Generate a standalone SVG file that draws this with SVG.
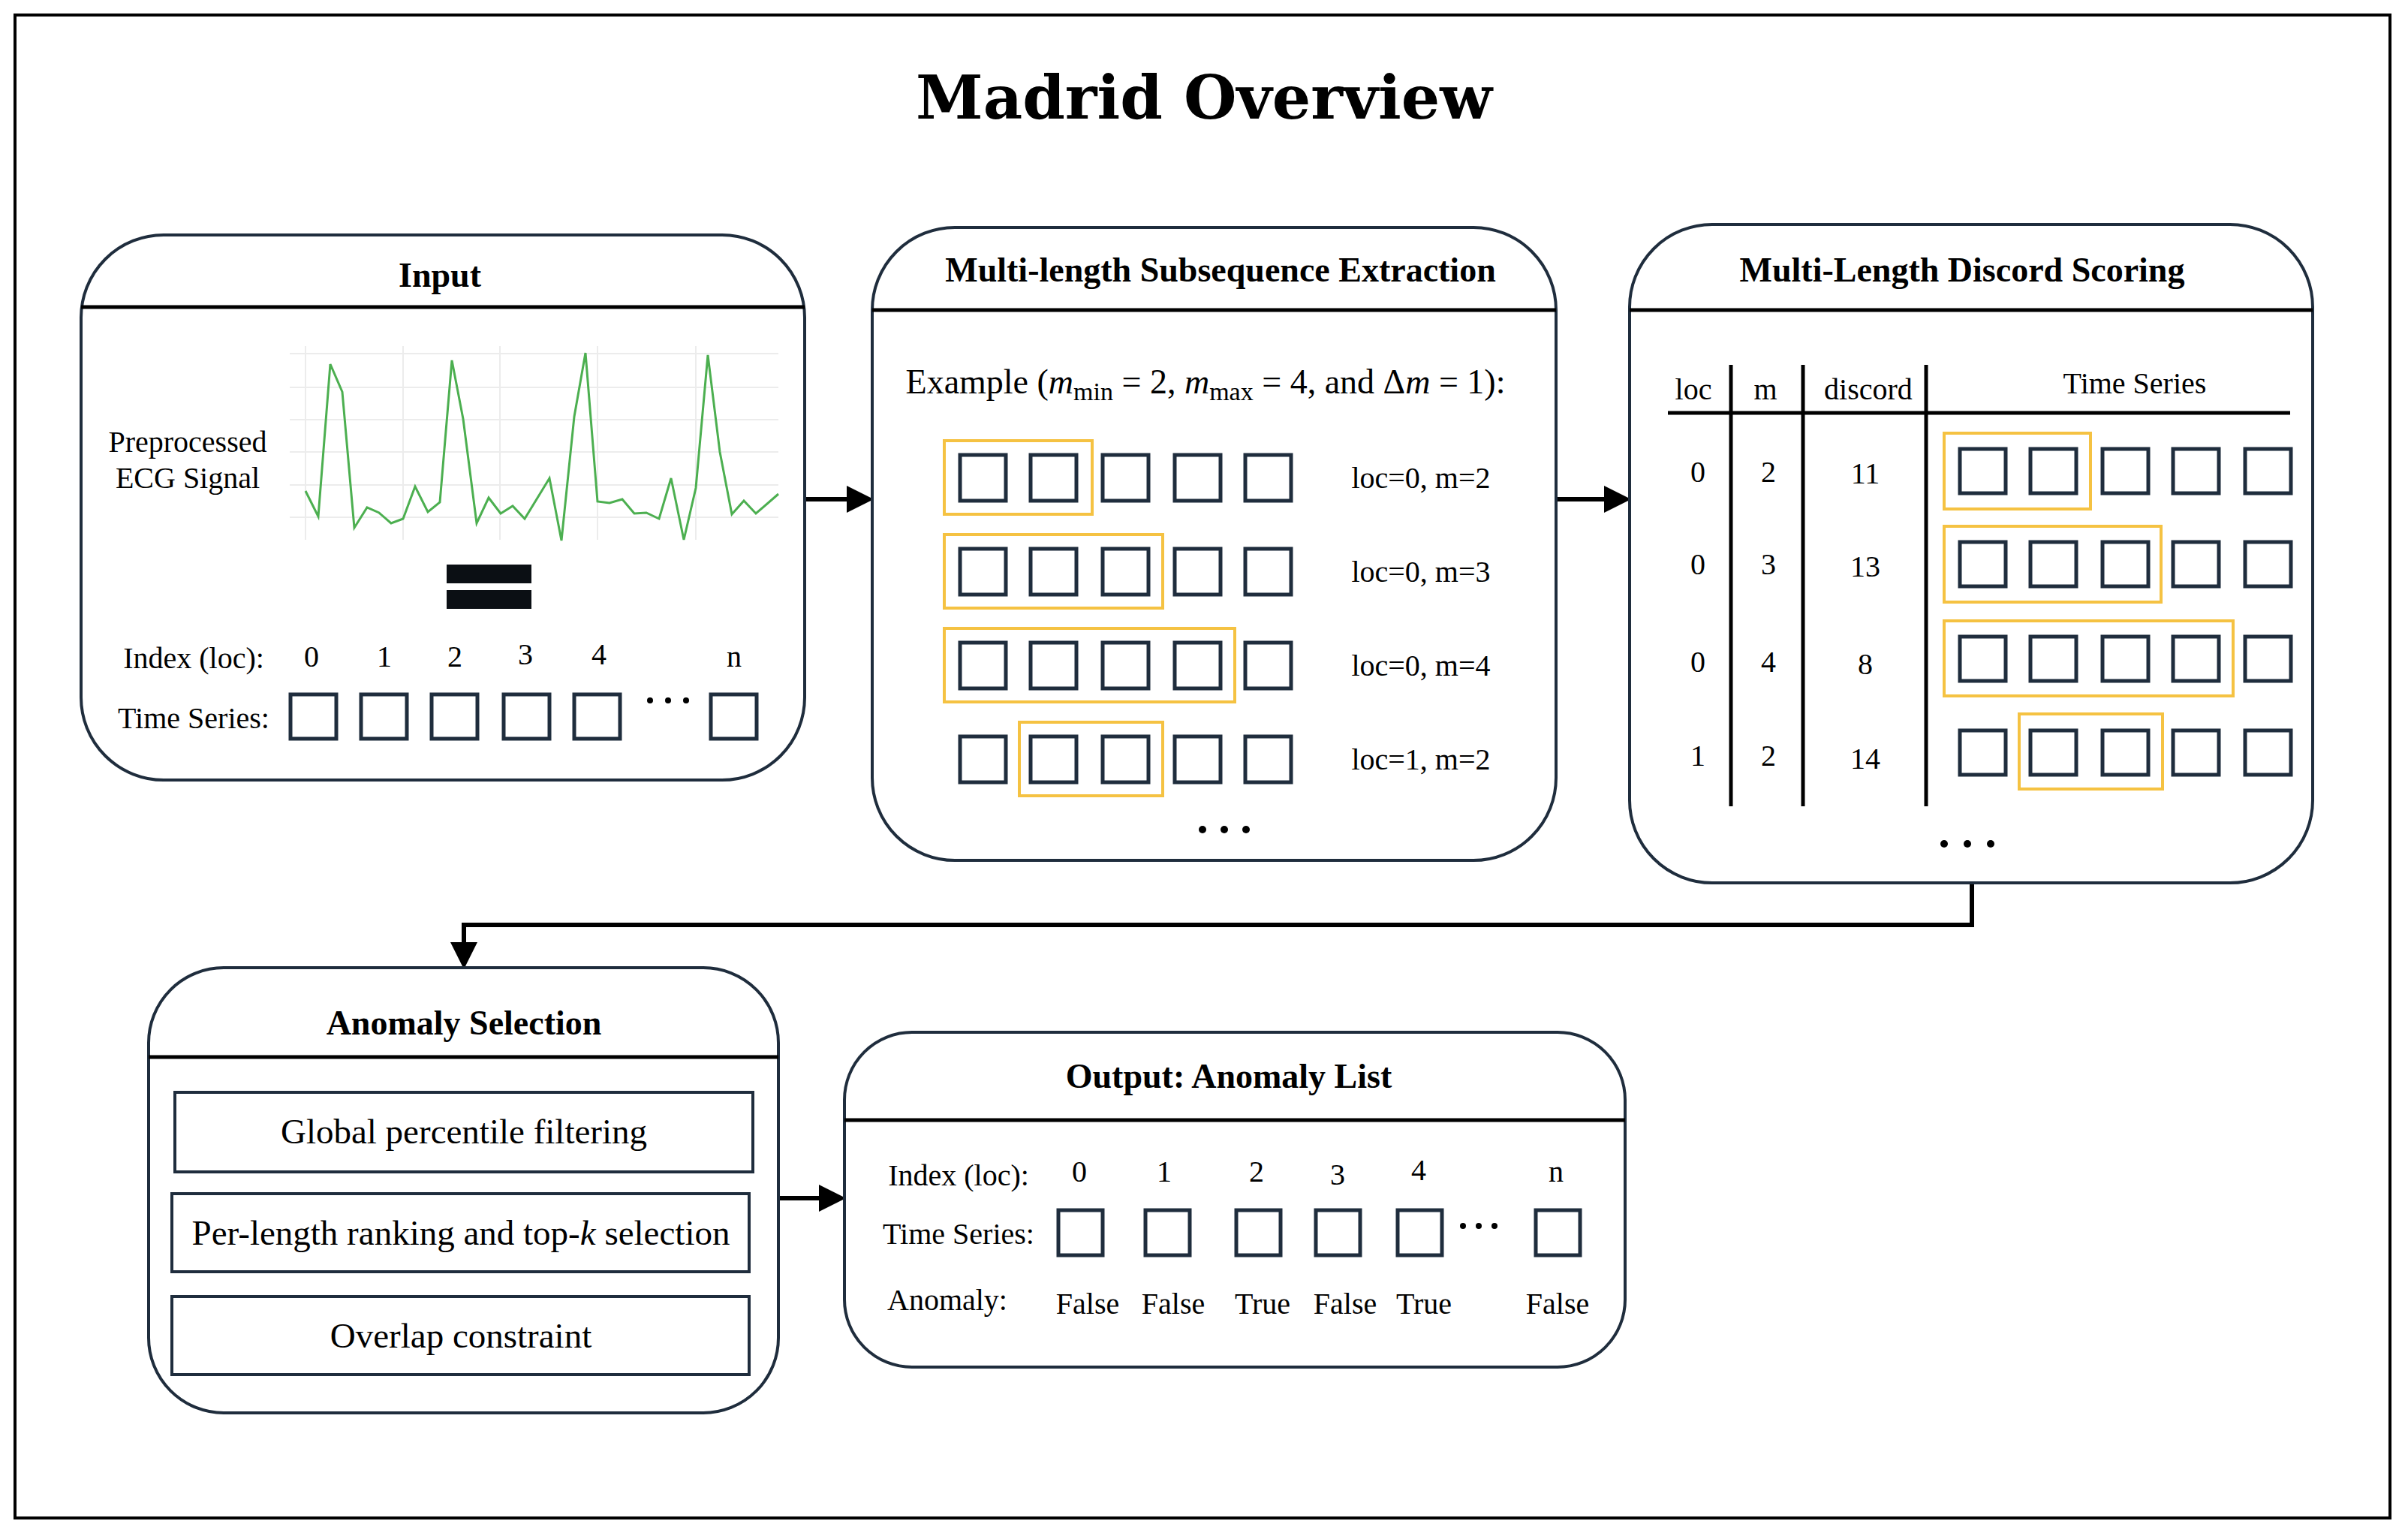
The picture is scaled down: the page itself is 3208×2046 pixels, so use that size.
<svg xmlns="http://www.w3.org/2000/svg" width="3208" height="2046" viewBox="0 0 3208 2046">
<defs>
<style>
text{font-family:"Liberation Serif","DejaVu Serif",serif;fill:#000;font-size:40px}
.t{font-weight:bold;font-size:46px;text-anchor:middle}
.c{text-anchor:middle}
.b{font-size:47px;text-anchor:middle}
.box{fill:#fff;stroke:#1f2d3d;stroke-width:4}
.hl{stroke:#000;stroke-width:5}
.sq{fill:none;stroke:#1f2d3d;stroke-width:5}
.or{fill:none;stroke:#f5c242;stroke-width:4}
.con{fill:none;stroke:#000;stroke-width:6}
.grid{stroke:#ececec;stroke-width:2}
</style>
<marker id="ah" markerWidth="6" markerHeight="6" refX="5" refY="3" orient="auto" markerUnits="strokeWidth"><path d="M0,0 L6,3 L0,6 z" fill="#000"/></marker>
</defs>
<rect width="3208" height="2046" fill="#fff"/>
<rect x="20" y="20" width="3164" height="2002" fill="none" stroke="#000" stroke-width="4"/>
<text x="1604" y="158" class="t" style="font-size:81px;font-family:'DejaVu Serif','Liberation Serif',serif">Madrid Overview</text>

<g id="connectors">
<line class="con" x1="1072" y1="665" x2="1158" y2="665" marker-end="url(#ah)"/>
<line class="con" x1="2073" y1="665" x2="2167" y2="665" marker-end="url(#ah)"/>
<polyline class="con" points="2627,1176 2627,1232 618,1232 618,1285" marker-end="url(#ah)"/>
<line class="con" x1="1037" y1="1596" x2="1121" y2="1596" marker-end="url(#ah)"/>
</g>

<g id="input">
<rect class="box" x="108" y="313" width="964" height="726" rx="110"/>
<line class="hl" x1="108" y1="409" x2="1072" y2="409"/>
<text x="586" y="382" class="t">Input</text>
<g>
<line class="grid" x1="407" y1="461" x2="407" y2="719"/><line class="grid" x1="537" y1="461" x2="537" y2="719"/><line class="grid" x1="666" y1="461" x2="666" y2="719"/><line class="grid" x1="796" y1="461" x2="796" y2="719"/><line class="grid" x1="927" y1="461" x2="927" y2="719"/>
<line class="grid" x1="386" y1="471" x2="1037" y2="471"/><line class="grid" x1="386" y1="516" x2="1037" y2="516"/><line class="grid" x1="386" y1="559" x2="1037" y2="559"/><line class="grid" x1="386" y1="602" x2="1037" y2="602"/><line class="grid" x1="386" y1="646" x2="1037" y2="646"/><line class="grid" x1="386" y1="689" x2="1037" y2="689"/>
<polyline fill="none" stroke="#4caf50" stroke-width="3" points="407,654 424,688 440,485 456,522 472,703 489,676 505,683 521,697 537,691 553,648 570,682 586,669 602,480 617,558 635,697 651,663 667,684 683,674 699,691 732,637 748,720 765,555 780,470 796,668 812,670 829,665 845,684 861,683 878,691 894,637 911,719 927,650 943,473 959,602 975,685 991,667 1007,684 1037,658"/>
</g>
<text x="250" y="602" class="c">Preprocessed</text>
<text x="250" y="650" class="c">ECG Signal</text>
<rect x="595" y="752" width="113" height="25" fill="#0b0f14"/>
<rect x="595" y="786" width="113" height="25" fill="#0b0f14"/>
<text x="258" y="890" class="c">Index (loc):</text>
<text x="415" y="888" class="c">0</text><text x="512" y="888" class="c">1</text><text x="606" y="888" class="c">2</text><text x="700" y="885" class="c">3</text><text x="798" y="885" class="c">4</text><text x="978" y="888" class="c">n</text>
<text x="258" y="970" class="c">Time Series:</text>
<rect class="sq" x="387" y="925" width="61" height="59"/><rect class="sq" x="481" y="925" width="61" height="59"/><rect class="sq" x="575" y="925" width="61" height="59"/><rect class="sq" x="671" y="925" width="61" height="59"/><rect class="sq" x="765" y="925" width="61" height="59"/><rect class="sq" x="947" y="925" width="61" height="59"/>
<circle cx="866" cy="933" r="4"/><circle cx="890" cy="933" r="4"/><circle cx="914" cy="933" r="4"/>
</g>

<g id="extraction">
<rect class="box" x="1162" y="303" width="911" height="843" rx="110"/>
<line class="hl" x1="1162" y1="413" x2="2073" y2="413"/>
<text x="1626" y="375" class="t">Multi-length Subsequence Extraction</text>
<text x="1606" y="524" class="c" style="font-size:46px">Example (<tspan font-style="italic">m</tspan><tspan font-size="34" dy="9">min</tspan><tspan dy="-9"> = 2, </tspan><tspan font-style="italic">m</tspan><tspan font-size="34" dy="9">max</tspan><tspan dy="-9"> = 4, and Δ</tspan><tspan font-style="italic">m</tspan> = 1):</text>
<g>
<rect class="or" x="1258" y="587" width="197" height="98"/>
<rect class="or" x="1258" y="712" width="291" height="98"/>
<rect class="or" x="1258" y="837" width="387" height="98"/>
<rect class="or" x="1358" y="962" width="191" height="98"/>
</g>
<g>
<rect class="sq" x="1279" y="606" width="61" height="61"/><rect class="sq" x="1373" y="606" width="61" height="61"/><rect class="sq" x="1469" y="606" width="61" height="61"/><rect class="sq" x="1565" y="606" width="61" height="61"/><rect class="sq" x="1659" y="606" width="61" height="61"/>
<rect class="sq" x="1279" y="731" width="61" height="61"/><rect class="sq" x="1373" y="731" width="61" height="61"/><rect class="sq" x="1469" y="731" width="61" height="61"/><rect class="sq" x="1565" y="731" width="61" height="61"/><rect class="sq" x="1659" y="731" width="61" height="61"/>
<rect class="sq" x="1279" y="856" width="61" height="61"/><rect class="sq" x="1373" y="856" width="61" height="61"/><rect class="sq" x="1469" y="856" width="61" height="61"/><rect class="sq" x="1565" y="856" width="61" height="61"/><rect class="sq" x="1659" y="856" width="61" height="61"/>
<rect class="sq" x="1279" y="981" width="61" height="61"/><rect class="sq" x="1373" y="981" width="61" height="61"/><rect class="sq" x="1469" y="981" width="61" height="61"/><rect class="sq" x="1565" y="981" width="61" height="61"/><rect class="sq" x="1659" y="981" width="61" height="61"/>
</g>
<text x="1893" y="650" class="c">loc=0, m=2</text>
<text x="1893" y="775" class="c">loc=0, m=3</text>
<text x="1893" y="900" class="c">loc=0, m=4</text>
<text x="1893" y="1025" class="c">loc=1, m=2</text>
<circle cx="1602" cy="1105" r="5"/><circle cx="1631" cy="1105" r="5"/><circle cx="1660" cy="1105" r="5"/>
</g>

<g id="scoring">
<rect class="box" x="2171" y="299" width="910" height="877" rx="110"/>
<line class="hl" x1="2171" y1="413" x2="3081" y2="413"/>
<text x="2614" y="375" class="t">Multi-Length Discord Scoring</text>
<line class="hl" x1="2222" y1="550" x2="3051" y2="550"/>
<line class="hl" x1="2306" y1="486" x2="2306" y2="1074"/>
<line class="hl" x1="2402" y1="486" x2="2402" y2="1074"/>
<line class="hl" x1="2566" y1="486" x2="2566" y2="1074"/>
<text x="2256" y="532" class="c">loc</text><text x="2352" y="532" class="c">m</text><text x="2489" y="532" class="c">discord</text><text x="2844" y="524" class="c">Time Series</text>
<text x="2262" y="642" class="c">0</text><text x="2356" y="642" class="c">2</text><text x="2485" y="644" class="c">11</text>
<text x="2262" y="765" class="c">0</text><text x="2356" y="765" class="c">3</text><text x="2485" y="768" class="c">13</text>
<text x="2262" y="895" class="c">0</text><text x="2356" y="895" class="c">4</text><text x="2485" y="898" class="c">8</text>
<text x="2262" y="1020" class="c">1</text><text x="2356" y="1020" class="c">2</text><text x="2485" y="1024" class="c">14</text>
<g>
<rect class="or" x="2590" y="577" width="195" height="101"/>
<rect class="or" x="2590" y="701" width="289" height="101"/>
<rect class="or" x="2590" y="827" width="385" height="100"/>
<rect class="or" x="2690" y="951" width="191" height="100"/>
</g>
<g>
<rect class="sq" x="2611" y="598" width="61" height="59"/><rect class="sq" x="2705" y="598" width="61" height="59"/><rect class="sq" x="2801" y="598" width="61" height="59"/><rect class="sq" x="2895" y="598" width="61" height="59"/><rect class="sq" x="2991" y="598" width="61" height="59"/>
<rect class="sq" x="2611" y="722" width="61" height="59"/><rect class="sq" x="2705" y="722" width="61" height="59"/><rect class="sq" x="2801" y="722" width="61" height="59"/><rect class="sq" x="2895" y="722" width="61" height="59"/><rect class="sq" x="2991" y="722" width="61" height="59"/>
<rect class="sq" x="2611" y="848" width="61" height="59"/><rect class="sq" x="2705" y="848" width="61" height="59"/><rect class="sq" x="2801" y="848" width="61" height="59"/><rect class="sq" x="2895" y="848" width="61" height="59"/><rect class="sq" x="2991" y="848" width="61" height="59"/>
<rect class="sq" x="2611" y="973" width="61" height="59"/><rect class="sq" x="2705" y="973" width="61" height="59"/><rect class="sq" x="2801" y="973" width="61" height="59"/><rect class="sq" x="2895" y="973" width="61" height="59"/><rect class="sq" x="2991" y="973" width="61" height="59"/>
</g>
<circle cx="2590" cy="1124" r="5"/><circle cx="2621" cy="1124" r="5"/><circle cx="2652" cy="1124" r="5"/>
</g>

<g id="selection">
<rect class="box" x="198" y="1289" width="839" height="593" rx="100"/>
<line class="hl" x1="198" y1="1408" x2="1037" y2="1408"/>
<text x="618" y="1378" class="t">Anomaly Selection</text>
<rect class="box" x="233" y="1455" width="770" height="106"/>
<rect class="box" x="229" y="1590" width="769" height="104"/>
<rect class="box" x="229" y="1727" width="769" height="104"/>
<text x="618" y="1523" class="b">Global percentile filtering</text>
<text x="614" y="1658" class="b">Per-length ranking and top-<tspan font-style="italic">k</tspan> selection</text>
<text x="614" y="1795" class="b">Overlap constraint</text>
</g>

<g id="output">
<rect class="box" x="1125" y="1375" width="1040" height="446" rx="90"/>
<line class="hl" x1="1125" y1="1492" x2="2165" y2="1492"/>
<text x="1637" y="1449" class="t">Output: Anomaly List</text>
<text x="1277" y="1579" class="c">Index (loc):</text>
<text x="1438" y="1574" class="c">0</text><text x="1551" y="1574" class="c">1</text><text x="1674" y="1574" class="c">2</text><text x="1782" y="1578" class="c">3</text><text x="1890" y="1572" class="c">4</text><text x="2073" y="1574" class="c">n</text>
<text x="1277" y="1657" class="c">Time Series:</text>
<rect class="sq" x="1410" y="1612" width="59" height="60"/><rect class="sq" x="1526" y="1612" width="59" height="60"/><rect class="sq" x="1647" y="1612" width="59" height="60"/><rect class="sq" x="1753" y="1612" width="59" height="60"/><rect class="sq" x="1862" y="1612" width="59" height="60"/><rect class="sq" x="2046" y="1612" width="59" height="60"/>
<circle cx="1949" cy="1633" r="4"/><circle cx="1970" cy="1633" r="4"/><circle cx="1991" cy="1633" r="4"/>
<text x="1262" y="1745" class="c">Anomaly:</text>
<text x="1449" y="1750" class="c">False</text><text x="1563" y="1750" class="c">False</text><text x="1682" y="1750" class="c">True</text><text x="1792" y="1750" class="c">False</text><text x="1897" y="1750" class="c">True</text><text x="2075" y="1750" class="c">False</text>
</g>
</svg>
